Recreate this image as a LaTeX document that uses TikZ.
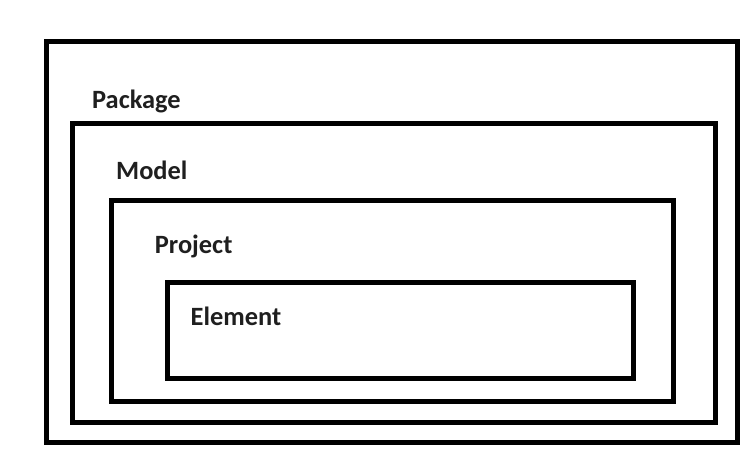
\documentclass[tikz,border=0pt]{standalone}
\usepackage{fontspec}
\setmainfont{Carlito}
\begin{document}
\begin{tikzpicture}[x=1pt,y=-1pt,
    box/.style={draw,line width=5pt,outer sep=0pt,inner sep=0pt},
    lbl/.style={anchor=base west,inner sep=0pt,text=black!88,font=\fontsize{26.4}{30}\selectfont\bfseries}]
  \useasboundingbox (0,0) rectangle (755,474);
  % nested boxes, outermost first
  \path node[box,minimum width=691,minimum height=401.5] (frame) at (392,241.75) {}
        node[box,minimum width=642.5,minimum height=299.5] (pkg) at (393.75,272.75) {}
        node[box,minimum width=562,minimum height=201] (mdl) at (392.5,300.5) {}
        node[box,minimum width=466,minimum height=96.5] (elm) at (400,330.25) {};
  % labels sit just above the box they name
  \path (pkg.north west) +(19.5,-14.7) node[lbl] (pkgL) {Package}
        (mdl.north west) +(4.5,-21) node[lbl] (mdlL) {Model}
        (elm.north west) +(-12.3,-28.7) node[lbl] (prjL) {Project}
        (elm.north west) +(23.5,43) node[lbl] (elmL) {Element};
\end{tikzpicture}
\end{document}
